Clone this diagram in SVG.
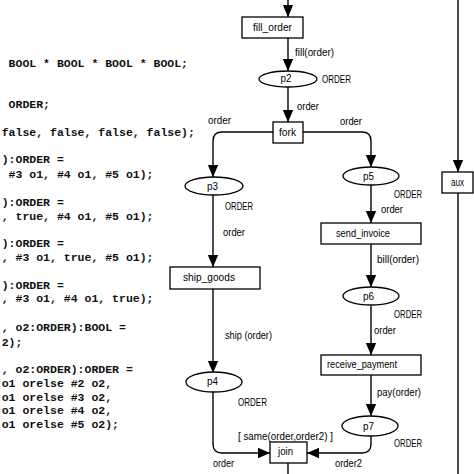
<svg xmlns="http://www.w3.org/2000/svg" width="474" height="474" viewBox="0 0 474 474">
<defs>
<marker id="ah" markerUnits="userSpaceOnUse" markerWidth="12" markerHeight="12" viewBox="0 0 12 12" refX="12" refY="6" orient="auto">
<path d="M0,0.8 L12,6 L0,11.2 Z" fill="#000"/>
</marker>
<style>
.code{font-family:"Liberation Mono","Courier New",monospace;font-weight:bold;font-size:11.5px;fill:#111}
.lb{font-family:"Liberation Sans",Arial,sans-serif;font-size:11.5px;fill:#000}
.box{fill:#fff;stroke:#000;stroke-width:1.3}
.pl{fill:#fff;stroke:#000;stroke-width:1.3}
.cn{fill:none;stroke:#000;stroke-width:1.4}
.ar{marker-end:url(#ah)}
</style>
</defs>
<rect width="474" height="474" fill="#fff"/>
<g id="code">
<text class="code" x="8.6" y="67">BOOL * BOOL * BOOL * BOOL;</text>
<text class="code" x="8.6" y="108">ORDER;</text>
<text class="code" x="1.7" y="136">false, false, false, false);</text>
<text class="code" x="1.7" y="163">):ORDER =</text>
<text class="code" x="8.6" y="178">#3 o1, #4 o1, #5 o1);</text>
<text class="code" x="1.7" y="206">):ORDER =</text>
<text class="code" x="1.7" y="220">, true, #4 o1, #5 o1);</text>
<text class="code" x="1.7" y="247">):ORDER =</text>
<text class="code" x="1.7" y="261">, #3 o1, true, #5 o1);</text>
<text class="code" x="1.7" y="289">):ORDER =</text>
<text class="code" x="1.7" y="302">, #3 o1, #4 o1, true);</text>
<text class="code" x="1.7" y="331">, o2:ORDER):BOOL =</text>
<text class="code" x="1.7" y="346">2);</text>
<text class="code" x="1.7" y="373">, o2:ORDER):ORDER =</text>
<text class="code" x="1.7" y="387">o1 orelse #2 o2,</text>
<text class="code" x="1.7" y="401">o1 orelse #3 o2,</text>
<text class="code" x="1.7" y="414">o1 orelse #4 o2,</text>
<text class="code" x="1.7" y="428">o1 orelse #5 o2);</text>
</g>
<g id="connectors">
<path class="cn ar" d="M288,0 V17"/>
<path class="cn ar" d="M288,38 V71"/>
<path class="cn ar" d="M288,87 V122"/>
<path class="cn ar" d="M273,132 H222 Q213,132 213,141 V177"/>
<path class="cn ar" d="M303,132 H362 Q371,132 371,141 V167"/>
<path class="cn ar" d="M213,195 V267"/>
<path class="cn ar" d="M213,289 V373"/>
<path class="cn ar" d="M213,392 V444 Q213,453 222,453 H270"/>
<path class="cn ar" d="M371,185 V223"/>
<path class="cn ar" d="M371,244 V287"/>
<path class="cn ar" d="M371,306 V355"/>
<path class="cn ar" d="M371,375 V416"/>
<path class="cn ar" d="M371,436 V444 Q371,453 362,453 H307"/>
<path class="cn" d="M288,463 V474"/>
<path class="cn ar" d="M458,0 V172"/>
<path class="cn" d="M458,193 V474"/>
</g>
<g id="fill_order"><rect class="box" x="242" y="17" width="61" height="21"/><text class="lb" x="253" y="30.5" textLength="39" lengthAdjust="spacingAndGlyphs">fill_order</text></g>
<g id="p2"><ellipse class="pl" cx="288" cy="79" rx="29" ry="8"/><text class="lb" x="286" y="82" text-anchor="middle" textLength="11" lengthAdjust="spacingAndGlyphs">p2</text></g>
<g id="fork"><rect class="box" x="273" y="122" width="30" height="21"/><text class="lb" x="279" y="135.5" textLength="17" lengthAdjust="spacingAndGlyphs">fork</text></g>
<g id="p3"><ellipse class="pl" cx="214" cy="186" rx="29" ry="9"/><text class="lb" x="212.5" y="189.5" text-anchor="middle" textLength="11" lengthAdjust="spacingAndGlyphs">p3</text></g>
<g id="p5"><ellipse class="pl" cx="371" cy="176" rx="28" ry="9"/><text class="lb" x="368.5" y="179.5" text-anchor="middle" textLength="11" lengthAdjust="spacingAndGlyphs">p5</text></g>
<g id="ship_goods"><rect class="box" x="170" y="267" width="90" height="22"/><text class="lb" x="183" y="281" textLength="52" lengthAdjust="spacingAndGlyphs">ship_goods</text></g>
<g id="send_invoice"><rect class="box" x="321" y="223" width="100" height="21"/><text class="lb" x="336" y="236.5" textLength="54" lengthAdjust="spacingAndGlyphs">send_invoice</text></g>
<g id="p6"><ellipse class="pl" cx="371" cy="296" rx="28" ry="9"/><text class="lb" x="368.5" y="299.5" text-anchor="middle" textLength="11" lengthAdjust="spacingAndGlyphs">p6</text></g>
<g id="receive_payment"><rect class="box" x="321" y="355" width="100" height="20"/><text class="lb" x="327" y="367.5" textLength="70" lengthAdjust="spacingAndGlyphs">receive_payment</text></g>
<g id="p4"><ellipse class="pl" cx="214" cy="382" rx="28" ry="10"/><text class="lb" x="212.5" y="385" text-anchor="middle" textLength="11" lengthAdjust="spacingAndGlyphs">p4</text></g>
<g id="p7"><ellipse class="pl" cx="370" cy="426" rx="28" ry="10"/><text class="lb" x="368.5" y="429.5" text-anchor="middle" textLength="11" lengthAdjust="spacingAndGlyphs">p7</text></g>
<g id="join"><rect class="box" x="270" y="442" width="37" height="21"/><text class="lb" x="278" y="455" textLength="15" lengthAdjust="spacingAndGlyphs">join</text></g>
<g id="aux"><rect class="box" x="442" y="172" width="31" height="21"/><text class="lb" x="451" y="186" textLength="13" lengthAdjust="spacingAndGlyphs">aux</text></g>
<g id="labels">
<text class="lb" x="295" y="56" textLength="39" lengthAdjust="spacingAndGlyphs">fill(order)</text>
<text class="lb" x="322" y="83" textLength="29" lengthAdjust="spacingAndGlyphs">ORDER</text>
<text class="lb" x="297" y="110" textLength="22" lengthAdjust="spacingAndGlyphs">order</text>
<text class="lb" x="208" y="124" textLength="23" lengthAdjust="spacingAndGlyphs">order</text>
<text class="lb" x="340" y="125" textLength="22" lengthAdjust="spacingAndGlyphs">order</text>
<text class="lb" x="225" y="210" textLength="28" lengthAdjust="spacingAndGlyphs">ORDER</text>
<text class="lb" x="223" y="236" textLength="22" lengthAdjust="spacingAndGlyphs">order</text>
<text class="lb" x="225" y="339" textLength="47" lengthAdjust="spacingAndGlyphs">ship (order)</text>
<text class="lb" x="238" y="406" textLength="29" lengthAdjust="spacingAndGlyphs">ORDER</text>
<text class="lb" x="238" y="440" textLength="95" lengthAdjust="spacingAndGlyphs">[ same(order,order2) ]</text>
<text class="lb" x="213" y="467" textLength="21" lengthAdjust="spacingAndGlyphs">order</text>
<text class="lb" x="335" y="467" textLength="27" lengthAdjust="spacingAndGlyphs">order2</text>
<text class="lb" x="394" y="198" textLength="28" lengthAdjust="spacingAndGlyphs">ORDER</text>
<text class="lb" x="381" y="213" textLength="22" lengthAdjust="spacingAndGlyphs">order</text>
<text class="lb" x="377" y="263" textLength="42" lengthAdjust="spacingAndGlyphs">bill(order)</text>
<text class="lb" x="394" y="318" textLength="28" lengthAdjust="spacingAndGlyphs">ORDER</text>
<text class="lb" x="374" y="334" textLength="22" lengthAdjust="spacingAndGlyphs">order</text>
<text class="lb" x="377" y="396" textLength="44" lengthAdjust="spacingAndGlyphs">pay(order)</text>
<text class="lb" x="394" y="447" textLength="28" lengthAdjust="spacingAndGlyphs">ORDER</text>
</g>
</svg>
